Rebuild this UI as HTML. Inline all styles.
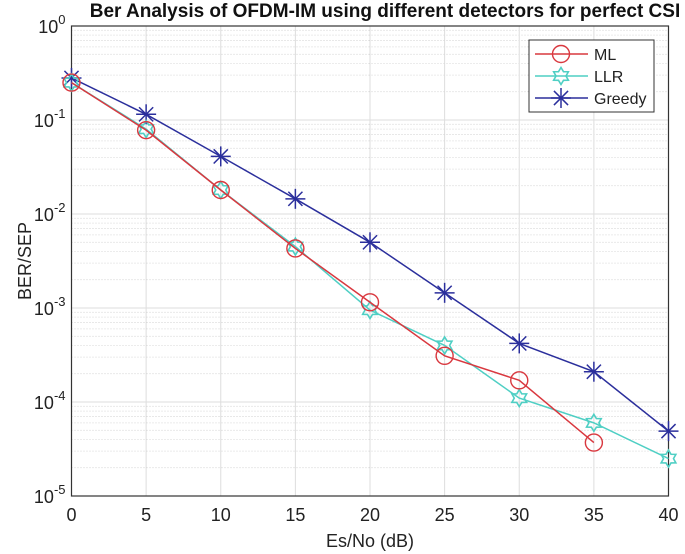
<!DOCTYPE html>
<html><head><meta charset="utf-8"><style>
body{margin:0;background:#fff;}
svg{display:block;font-family:"Liberation Sans",Arial,sans-serif;}
</style></head><body>
<svg id="chart" width="685" height="554"></svg>
<script>
const xValues=[0,5,10,15,20,25,30,35,40];
const mlValues=[0.25,0.078,0.018,0.0043,0.00115,0.00031,0.00017,0.000037];
const llrValues=[0.25,0.08,0.018,0.0045,0.00095,0.0004,0.00011,0.00006,0.000025];
const greedyValues=[0.28,0.115,0.041,0.0145,0.005,0.00145,0.00042,0.00021,0.000049];
const xTicks=[0,5,10,15,20,25,30,35,40];
const yExps=[0,-1,-2,-3,-4,-5];
const NS='http://www.w3.org/2000/svg';
const svg=document.getElementById('chart');
const L=71.5,R=668.5,T=26,B=496;
const X=v=>L+(v-0)/40*(R-L);
const Y=v=>T+(0-Math.log10(v))/5*(B-T);
function el(t,a,p){const e=document.createElementNS(NS,t);for(const k in a)e.setAttribute(k,a[k]);(p||svg).appendChild(e);return e;}
const grid=el('g',{});


for(let d=0;d<5;d++){for(let m=2;m<=9;m++){const y=Y(Math.pow(10,-d-1)*m);el('line',{x1:L,x2:R,y1:y,y2:y,stroke:'#ccc','stroke-width':0.8,'stroke-dasharray':'1,2'},grid);}}
yExps.forEach(e=>{const y=Y(Math.pow(10,e));el('line',{x1:L,x2:R,y1:y,y2:y,stroke:'#ddd','stroke-width':1},grid);
const t=el('text',{x:L-6,y:y+7,'text-anchor':'end','font-size':18,fill:'#222'});t.textContent='10';const s=el('tspan',{dy:-9,'font-size':13},t);s.textContent=e;
});
xTicks.forEach(v=>{const x=X(v);el('line',{x1:x,x2:x,y1:T,y2:B,stroke:'#ddd','stroke-width':1},grid);
const t=el('text',{x:x,y:B+25,'text-anchor':'middle','font-size':18,fill:'#222'});t.textContent=v;
});
const ax=el('rect',{x:L,y:T,width:R-L,height:B-T,fill:'none',stroke:'#333','stroke-width':1.2});

function star(g,x,y,c){const pts=[];for(let i=0;i<12;i++){const r=i%2?5:8.5,a=i*Math.PI/6;pts.push((x+r*Math.sin(a))+','+(y-r*Math.cos(a)));}el('polygon',{points:pts.join(' '),fill:'none',stroke:c,'stroke-width':1.6},g);}
function ast(g,x,y,c){for(let i=0;i<4;i++){const a=i*Math.PI/4;el('line',{x1:x-10*Math.cos(a),y1:y-10*Math.sin(a),x2:x+10*Math.cos(a),y2:y+10*Math.sin(a),stroke:c,'stroke-width':1.5},g);}}
function circ(g,x,y,c){el('circle',{cx:x,cy:y,r:8.5,fill:'none',stroke:c,'stroke-width':1.4},g);}
function series(vals,c,mk,name){const g=el('g',{});
el('polyline',{points:vals.map((v,i)=>X(xValues[i])+','+Y(v)).join(' '),fill:'none',stroke:c,'stroke-width':1.5},g);
vals.forEach((v,i)=>mk(g,X(xValues[i]),Y(v),c));}
series(greedyValues,'#2b2f9c',ast,'series-greedy');
series(llrValues,'#4fcfc4',star,'series-llr');
series(mlValues,'#d9383f',circ,'series-ml');
const lg=el('g',{});
el('rect',{x:529,y:40,width:125,height:72,fill:'#fff',stroke:'#333','stroke-width':1},lg);
[['ML','#d9383f',circ],['LLR','#4fcfc4',star],['Greedy','#2b2f9c',ast]].forEach((d,i)=>{const y=54+i*22;
el('line',{x1:535,x2:588,y1:y,y2:y,stroke:d[1],'stroke-width':1.5},lg);d[2](lg,561,y,d[1]);
const t=el('text',{x:594,y:y+6,'font-size':16,fill:'#222'},lg);t.textContent=d[0];});
const tt=el('text',{x:385,y:17,'text-anchor':'middle','font-size':19,'font-weight':'bold',fill:'#111'});tt.textContent='Ber Analysis of OFDM-IM using different detectors for perfect CSI';

const xl=el('text',{x:370,y:547,'text-anchor':'middle','font-size':18,fill:'#222'});xl.textContent='Es/No (dB)';

const yl=el('text',{x:0,y:0,'text-anchor':'middle','font-size':18,fill:'#222',transform:'translate(31,261) rotate(-90)'});yl.textContent='BER/SEP';

</script>
</body></html>
